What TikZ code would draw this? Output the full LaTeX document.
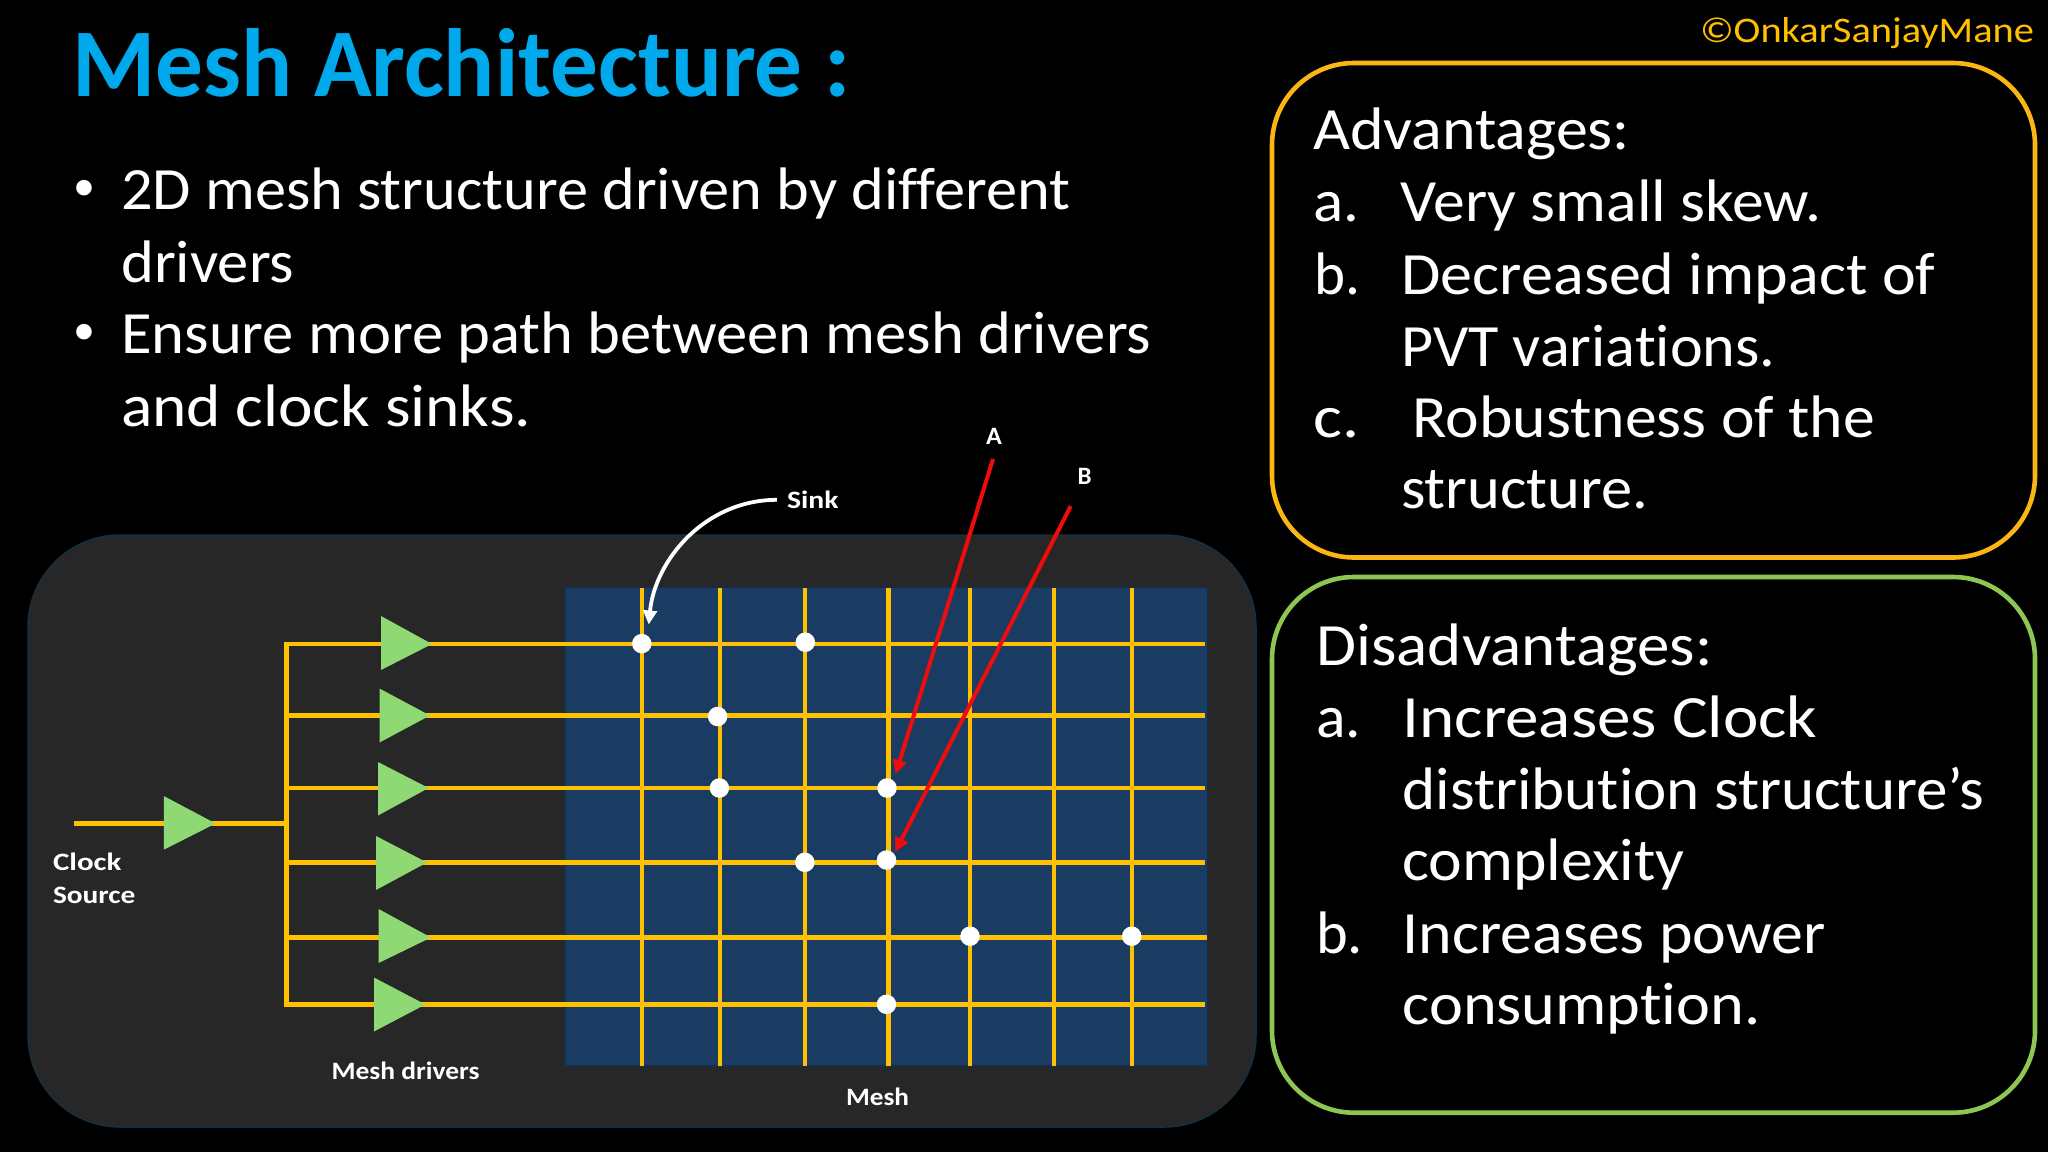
\documentclass[tikz,border=0pt]{standalone}
\usepackage{fontspec}
\usepackage{graphicx}
\setmainfont[Ligatures=NoCommon]{Carlito}
\usetikzlibrary{arrows.meta}
\definecolor{wire}{HTML}{FFC000}
\definecolor{drv}{HTML}{8ED973}
\definecolor{panelc}{HTML}{272727}
\definecolor{panelo}{HTML}{16303F}
\definecolor{meshc}{HTML}{1A3C62}
\definecolor{mesho}{HTML}{123049}
\definecolor{titlec}{HTML}{00A9EC}
\definecolor{boxa}{HTML}{FBB614}
\definecolor{boxd}{HTML}{8DC652}
\definecolor{arrowred}{HTML}{F00C0C}
\newcommand{\fitw}[2]{\resizebox{#1pt}{\height}{#2}}
\tikzset{
  lbl/.style={anchor=base west,inner sep=0pt,outer sep=0pt,text=white},
  bodytxt/.style={lbl,font=\fontsize{60}{72}\selectfont},
  bullettxt/.style={inner sep=0pt,outer sep=0pt,text=white,font=\fontsize{44}{50}\selectfont},
  small/.style={lbl,font=\fontsize{25}{30}\selectfont\bfseries},
  wireline/.style={draw=wire,line width=4.3pt},
  buffer/.style={fill=drv},
  sink/.style={circle,fill=white,inner sep=0pt,outer sep=0pt,minimum size=19.5pt},
  redarrow/.style={draw=arrowred,line width=4pt,-{Triangle[width=13.5pt,length=14pt]}},
  whitearrow/.style={draw=white,line width=3.8pt,-{Triangle[width=13.5pt,length=14pt]}},
  roundbox/.style={line width=4.6pt,rounded corners=82pt}
}
\begin{document}
\begin{tikzpicture}[x=1pt,y=-1pt]
\useasboundingbox (0,0) rectangle (2048,1152);
\fill[black] (0,0) rectangle (2048,1152);

% title
\node[lbl,text=titlec,font=\fontsize{97}{110}\selectfont\bfseries] (title) at (72.5,96.5) {\fitw{778}{Mesh Architecture :}};
\node[lbl,text=wire,font=\fontsize{36}{44}\selectfont] (copy) at (1700,42) {\fitw{334}{©OnkarSanjayMane}};

% bullets
\node[bullettxt] (bu1) at (84,190) {•};
\node[bullettxt] (bu2) at (84,334) {•};
\node[bodytxt] (t1) at (121.2,209.5) {\fitw{949}{2D mesh structure driven by different}};
\node[bodytxt] (t2) at (121.2,282.5) {\fitw{173}{drivers}};
\node[bodytxt] (t3) at (121.2,353.5) {\fitw{1030}{Ensure more path between mesh drivers}};
\node[bodytxt] (t4) at (121.2,426.5) {\fitw{410}{and clock sinks.}};

% advantage box
\draw[roundbox,draw=boxa] (1272,63) rectangle (2035,557.5);
\node[bodytxt] (a0) at (1313,149.5) {\fitw{317}{Advantages:}};
\node[bodytxt] (a1) at (1313.5,221.5) {\fitw{46}{a.}};
\node[bodytxt] (a1t) at (1400.3,221.5) {\fitw{421}{Very small skew.}};
\node[bodytxt] (a2) at (1314.5,294) {\fitw{46}{b.}};
\node[bodytxt] (a2t) at (1401.5,294) {\fitw{534}{Decreased impact of}};
\node[bodytxt] (a2u) at (1401.5,366) {\fitw{374}{PVT variations.}};
\node[bodytxt] (a3) at (1313.5,437.5) {\fitw{46}{c.}};
\node[bodytxt] (a3t) at (1412.5,437.5) {\fitw{462.5}{Robustness of the}};
\node[bodytxt] (a3u) at (1401.2,508.5) {\fitw{247}{structure.}};

% disadvantage box
\draw[roundbox,draw=boxd] (1272,577) rectangle (2035,1112.7);
\node[bodytxt] (d0) at (1316.5,665) {\fitw{396}{Disadvantages:}};
\node[bodytxt] (d1) at (1316.2,737.5) {\fitw{45}{a.}};
\node[bodytxt] (d1t) at (1402.5,737.5) {\fitw{415}{Increases Clock}};
\node[bodytxt] (d1u) at (1402.5,809) {\fitw{582}{distribution structure’s}};
\node[bodytxt] (d1v) at (1402.5,880.5) {\fitw{282}{complexity}};
\node[bodytxt] (d2) at (1316.2,953.5) {\fitw{47}{b.}};
\node[bodytxt] (d2t) at (1402.5,953.5) {\fitw{423}{Increases power}};
\node[bodytxt] (d2u) at (1402.5,1024.5) {\fitw{358}{consumption.}};

% panel and mesh
\draw[fill=panelc,draw=panelo,line width=1.5pt,rounded corners=92pt] (28,535) rectangle (1256,1127);
\draw[fill=meshc,draw=mesho,line width=1.5pt] (565,587.5) rectangle (1207.5,1066);

% clock tree coordinates
\coordinate (src) at (73.7,823.5);
\coordinate (busin) at (286.5,823.5);
\coordinate (bustop) at (286.5,644);
\coordinate (busbot) at (286.5,1004.5);
\coordinate (b2) at (286.5,715.5);
\coordinate (b3) at (286.5,788);
\coordinate (b4) at (286.5,862.5);
\coordinate (b5) at (286.5,937.5);
\coordinate (e1) at (1205,644);
\coordinate (e2) at (1205,715.5);
\coordinate (e3) at (1205,788);
\coordinate (e4) at (1205,862.5);
\coordinate (e5) at (1207,937.5);
\coordinate (e6) at (1205,1004.5);

% horizontal and vertical wires
\draw[wireline] (bustop) -- (e1);
\draw[wireline] (b2) -- (e2);
\draw[wireline] (b3) -- (e3);
\draw[wireline] (b4) -- (e4);
\draw[wireline] (b5) -- (e5);
\draw[wireline] (busbot) -- (e6);
\draw[wireline,line cap=rect] (bustop) -- (busbot);
\draw[wireline] (src) -- (busin);
\foreach \n/\x in {1/642.3,2/720.3,3/805.3,4/888.4,5/970,6/1053.7,7/1131.7}{
  \coordinate (vt\n) at (\x,588);
  \coordinate (vb\n) at (\x,1066);
  \draw[wireline] (vt\n) -- (vb\n);
}

% buffers
\fill[buffer] (163.8,796) -- (215.6,823.5) -- (163.8,849.7) -- cycle;
\fill[buffer] (381,616) -- (432,644) -- (381,670) -- cycle;
\fill[buffer] (379.5,688.5) -- (430,715.5) -- (379.5,742.5) -- cycle;
\fill[buffer] (378,762) -- (428.6,788) -- (378,815.5) -- cycle;
\fill[buffer] (376,836) -- (427,862.5) -- (376,890) -- cycle;
\fill[buffer] (378.6,909) -- (431,937.5) -- (378.6,963) -- cycle;
\fill[buffer] (374,977.5) -- (425.4,1004.5) -- (374,1031.5) -- cycle;

% sinks
\node[sink] (s1) at (641.8,643.6) {};
\node[sink] (s2) at (805.3,642.2) {};
\node[sink] (s3) at (717.6,716.5) {};
\node[sink] (s4) at (719.4,788) {};
\node[sink] (s5) at (887,788) {};
\node[sink] (s6) at (804.8,862.3) {};
\node[sink] (s7) at (886.5,860) {};
\node[sink] (s8) at (970,936.2) {};
\node[sink] (s9) at (1131.7,936.2) {};
\node[sink] (s10) at (886.5,1004.3) {};

% labels
\node[small] (clk) at (53,870.7) {\fitw{68.5}{Clock}};
\node[small] (srcl) at (53,903) {\fitw{82.5}{Source}};
\node[small] (drvl) at (331.5,1079) {\fitw{148}{Mesh drivers}};
\node[small] (meshl) at (846,1105) {\fitw{63}{Mesh}};
\node[small] (sinkl) at (787,508) {\fitw{51.5}{Sink}};
\node[small] (al) at (986,444.6) {\fitw{15.8}{A}};
\node[small] (bl) at (1077.5,484.4) {\fitw{14}{B}};

% annotation arrows
\coordinate (sinkfrom) at (776.8,499.8);
\coordinate (sinkto) at (648.7,624.5);
\coordinate (afrom) at (993,459);
\coordinate (ato) at (895.7,774);
\coordinate (bfrom) at (1070.7,506);
\coordinate (bto) at (895.3,851.8);
\draw[whitearrow] (sinkfrom) .. controls (705,500) and (655,560) .. (sinkto);
\draw[redarrow] (afrom) -- (ato);
\draw[redarrow] (bfrom) -- (bto);
\end{tikzpicture}
\end{document}
